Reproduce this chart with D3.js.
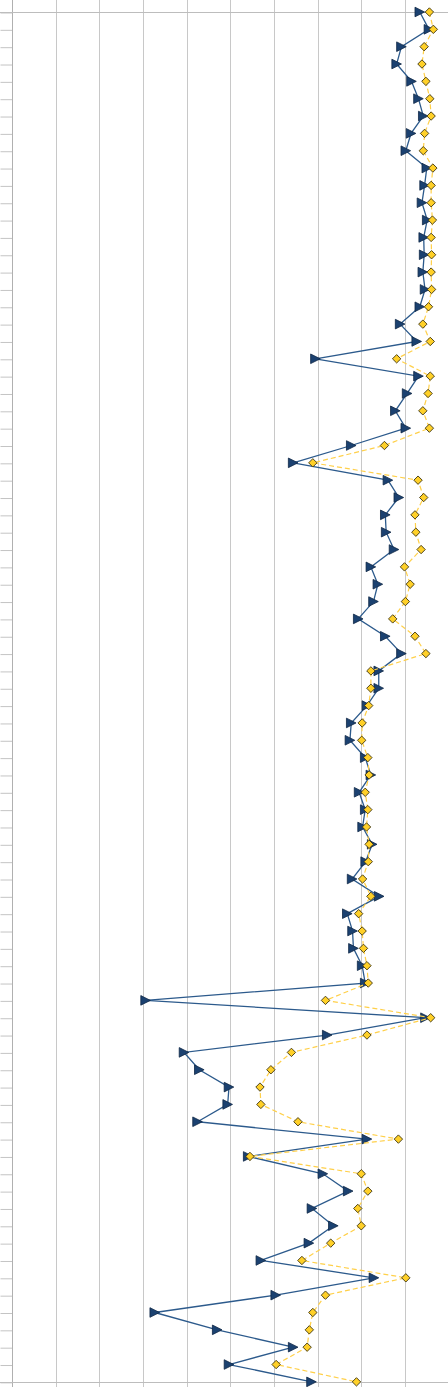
<!DOCTYPE html>
<html>
<head>
<meta charset="utf-8">
<script src="https://cdn.jsdelivr.net/npm/d3@7/dist/d3.min.js"></script>
<style>
  html, body { margin: 0; padding: 0; background: #ffffff; }
  svg { display: block; }
</style>
</head>
<body>
<script>
// Category rows (top to bottom)
const categories = d3.range(1, 81).map(String);

// Value ticks for the vertical gridlines
const valueTicks = [0, 10, 20, 30, 40, 50, 60, 70, 80, 90, 100];

// Series A (navy triangles, solid line)
const seriesA = [
  93.4, 95.5, 89.2, 88.1, 91.5, 93.1, 94.2, 91.4, 90.2, 95.0,
  94.5, 93.9, 95.1, 94.3, 94.4, 94.1, 94.6, 93.4, 88.9, 92.7,
  69.5, 93.1, 90.5, 87.8, 90.2, 77.7, 64.4, 86.1, 88.6, 85.5,
  85.7, 87.5, 82.2, 83.8, 82.8, 79.3, 85.5, 89.2, 84.0, 84.0,
  81.3, 77.7, 77.4, 80.9, 82.2, 79.5, 80.9, 80.3, 82.5, 81.0,
  77.9, 84.1, 76.8, 78.0, 78.2, 80.2, 80.9, 30.6, 94.7, 72.2,
  39.4, 42.9, 49.7, 49.4, 42.5, 81.3, 54.1, 71.2, 77.0, 68.7,
  73.6, 68.0, 57.0, 82.9, 60.4, 32.7, 47.0, 64.4, 49.7, 68.6
];

// Series B (gold diamonds, dashed line)
const seriesB = [
  95.6, 96.5, 94.4, 93.9, 94.8, 95.7, 96.0, 94.5, 94.2, 96.4,
  96.0, 96.0, 96.3, 96.0, 96.1, 96.0, 96.1, 95.4, 94.1, 95.8,
  88.1, 95.8, 95.3, 94.1, 95.6, 85.3, 68.9, 93.0, 94.3, 92.3,
  92.5, 93.7, 89.9, 91.2, 90.1, 87.2, 92.3, 94.8, 82.2, 82.2,
  81.7, 80.2, 80.1, 81.5, 81.8, 80.9, 81.5, 81.2, 81.8, 81.6,
  80.3, 82.2, 79.4, 80.2, 80.5, 81.3, 81.6, 71.8, 95.9, 81.3,
  64.0, 59.3, 56.8, 57.0, 65.5, 88.5, 54.5, 80.0, 81.5, 79.2,
  80.0, 73.0, 66.4, 90.2, 71.8, 68.9, 68.1, 67.6, 60.5, 78.9
];

(function () {
  const W = 448, H = 1387;
  const plotLeft = 12, plotTop = 12, rowStep = 17.34;
  const plotBottom = plotTop + rowStep * (categories.length - 1);

  const svg = d3.select("body").append("svg")
    .attr("width", W).attr("height", H);

  const x = d3.scaleLinear().domain([0, 100]).range([plotLeft, plotLeft + 436.6]);
  const y = d3.scalePoint().domain(categories).range([plotTop, plotBottom]);

  // Vertical gridlines
  svg.append("g")
    .selectAll("line")
    .data(valueTicks.slice(1))
    .join("line")
    .attr("x1", d => Math.round(x(d)) + 0.5)
    .attr("x2", d => Math.round(x(d)) + 0.5)
    .attr("y1", 0).attr("y2", H)
    .attr("stroke", "#c8c8c8").attr("stroke-width", 1);

  // Category axis with outward ticks
  const axis = d3.axisLeft(y).tickSize(plotLeft).tickFormat("");
  const gAxis = svg.append("g")
    .attr("transform", `translate(${plotLeft + 0.5},0.5)`)
    .call(axis);
  gAxis.select(".domain").remove();
  gAxis.selectAll(".tick line").attr("stroke", "#c4c4c4");

  // Axis line and boundary rules
  svg.append("line")
    .attr("x1", plotLeft + 0.5).attr("x2", plotLeft + 0.5)
    .attr("y1", 0).attr("y2", H)
    .attr("stroke", "#b0b0b0").attr("stroke-width", 1);
  [plotTop, plotBottom].forEach(v => {
    svg.append("line")
      .attr("x1", 0).attr("x2", W)
      .attr("y1", Math.round(v) + 0.5).attr("y2", Math.round(v) + 0.5)
      .attr("stroke", "#bdbdbd").attr("stroke-width", 1);
  });

  const line = vals => d3.line()
    .x(d => x(d))
    .y((d, i) => y(categories[i]))(vals);

  // Series A line and triangle markers
  svg.append("path")
    .attr("d", line(seriesA))
    .attr("fill", "none")
    .attr("stroke", "#2c5a8c")
    .attr("stroke-width", 1.3);

  svg.append("g")
    .selectAll("path")
    .data(seriesA)
    .join("path")
    .attr("transform", (d, i) => `translate(${x(d)},${y(categories[i])})`)
    .attr("d", "M-4.8,-4.8L4.8,0L-4.8,4.8Z")
    .attr("fill", "#1b4170")
    .attr("stroke", "#0f2745")
    .attr("stroke-width", 0.8);

  // Series B dashed line and diamond markers
  svg.append("path")
    .attr("d", line(seriesB))
    .attr("fill", "none")
    .attr("stroke", "#ffd04a")
    .attr("stroke-width", 1.2)
    .attr("stroke-dasharray", "5,3");

  svg.append("g")
    .selectAll("path")
    .data(seriesB)
    .join("path")
    .attr("transform", (d, i) => `translate(${x(d)},${y(categories[i])})`)
    .attr("d", "M0,-4.2L4.2,0L0,4.2L-4.2,0Z")
    .attr("fill", "#ffd028")
    .attr("stroke", "#3d3410")
    .attr("stroke-width", 0.9);
})();
</script>
</body>
</html>
